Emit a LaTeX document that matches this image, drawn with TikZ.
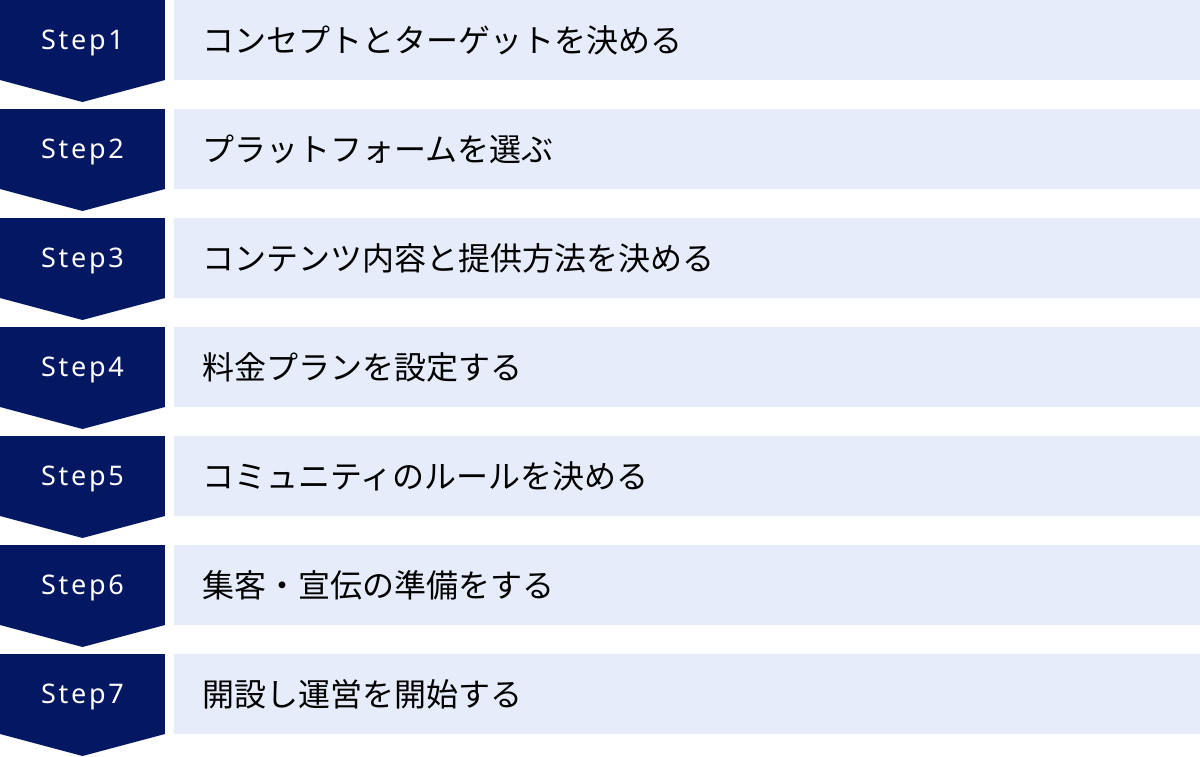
\documentclass[tikz,border=0pt]{standalone}
\usepackage{fontspec}
\newfontfamily\jpfont{Noto Sans CJK JP}
\newfontfamily\stepfont[LetterSpace=10]{Noto Sans}
\usepackage{tikz}
\usetikzlibrary{positioning}
\definecolor{stepnavy}{RGB}{3,23,98}
\definecolor{rowblue}{RGB}{230,236,249}

\begin{document}
\begin{tikzpicture}[x=1pt, y=1pt, node distance=29pt,
	stepbox/.style={fill=stepnavy, text=white, minimum width=165pt, minimum height=80pt, inner sep=0pt, outer sep=0pt, text height=19.5pt, text depth=0pt, font=\stepfont\fontsize{27}{30}\selectfont},
	rowbox/.style={fill=rowblue, text=black, minimum height=80pt, text width=970pt, inner xsep=28pt, inner ysep=0pt, outer sep=0pt, align=left, font=\jpfont\fontsize{32}{36}\selectfont}]
		\useasboundingbox (0,0) rectangle (1200,-756);
		\node[stepbox, anchor=north west] (s1) at (0,0) {Step1};
		\node[stepbox] (s2) [below=of s1] {Step2};
		\node[stepbox] (s3) [below=of s2] {Step3};
		\node[stepbox] (s4) [below=of s3] {Step4};
		\node[stepbox] (s5) [below=of s4] {Step5};
		\node[stepbox] (s6) [below=of s5] {Step6};
		\node[stepbox] (s7) [below=of s6] {Step7};
		\node[rowbox] (r1) [right=9pt of s1] {コンセプトとターゲットを決める};
		\node[rowbox] (r2) [right=9pt of s2] {プラットフォームを選ぶ};
		\node[rowbox] (r3) [right=9pt of s3] {コンテンツ内容と提供方法を決める};
		\node[rowbox] (r4) [right=9pt of s4] {料金プランを設定する};
		\node[rowbox] (r5) [right=9pt of s5] {コミュニティのルールを決める};
		\node[rowbox] (r6) [right=9pt of s6] {集客・宣伝の準備をする};
		\node[rowbox] (r7) [right=9pt of s7] {開設し運営を開始する};
		% chevron points below each step
		\fill[stepnavy] (s1.south west) -- (s1.south east) -- ([yshift=-22pt]s1.south) -- cycle;
		\fill[stepnavy] (s2.south west) -- (s2.south east) -- ([yshift=-22pt]s2.south) -- cycle;
		\fill[stepnavy] (s3.south west) -- (s3.south east) -- ([yshift=-22pt]s3.south) -- cycle;
		\fill[stepnavy] (s4.south west) -- (s4.south east) -- ([yshift=-22pt]s4.south) -- cycle;
		\fill[stepnavy] (s5.south west) -- (s5.south east) -- ([yshift=-22pt]s5.south) -- cycle;
		\fill[stepnavy] (s6.south west) -- (s6.south east) -- ([yshift=-22pt]s6.south) -- cycle;
		\fill[stepnavy] (s7.south west) -- (s7.south east) -- ([yshift=-22pt]s7.south) -- cycle;
		
		\end{tikzpicture}
\end{document}
